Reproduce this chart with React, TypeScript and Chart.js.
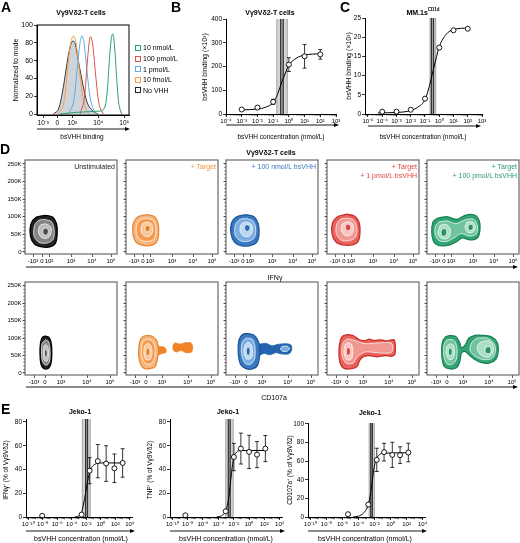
import React, { useEffect, useRef } from "react";
import { Chart, registerables } from "chart.js";

Chart.register(...registerables);

const FONT = '"Liberation Sans", Arial, Helvetica, sans-serif';
Chart.defaults.font.family = FONT;
Chart.defaults.color = "#000";

/* ================= DATA ================= */

// Panel A – histograms (x in display channels, y in % of mode)
const A_X_TICKS = [63, 203, 353, 613, 873];
const A_X_LABELS = ["10⁻³", "0", "10³", "10⁴", "10⁵"];
const A_Y_TICKS = [0, 20, 40, 60, 80, 100];
const A_NO_VHH = [[163, 0], [213, 5], [263, 30], [297, 55], [330, 75], [357, 82], [380, 80], [413, 60], [447, 40], [480, 22], [513, 10], [563, 3], [613, 0]];
const A_10_FMOL = [[213, 0], [263, 10], [297, 40], [330, 75], [363, 88], [390, 80], [423, 50], [457, 20], [490, 5], [523, 0]];
const A_1_PMOL = [[313, 0], [363, 12], [397, 45], [430, 80], [450, 88], [470, 80], [503, 45], [537, 15], [580, 2], [613, 0]];
const A_100_PMOL = [[430, 0], [470, 15], [497, 50], [523, 82], [537, 87], [557, 78], [590, 40], [623, 10], [663, 0]];
const A_10_NMOL = [[230, 0], [397, 2], [563, 3], [663, 5], [697, 20], [723, 60], [743, 85], [757, 90], [773, 80], [797, 40], [820, 10], [847, 0]];
const A_LEGEND = ["10 nmol/L", "100 pmol/L", "1 pmol/L", "10 fmol/L", "No VHH"];

// Panel B
const B_CONC = [1e-3, 1e-2, 1e-1, 1, 10, 100];
const B_MEAN = [19, 27, 51, 208, 243, 251];
const B_ERR = [3, 3, 11, 29, 50, 20];
const B_FIT_CONC = [1e-3, 1e-2, 0.0316, 0.1, 0.178, 0.316, 0.562, 1, 3.16, 10, 100];
const B_FIT = [17, 21, 28, 48, 78, 125, 168, 205, 236, 248, 254];
const B_BAND = [0.17, 0.8, 0.3, 0.44];
const B_X_TICKS = [1e-4, 1e-3, 1e-2, 1e-1, 1, 10, 100, 1000];
const B_X_LABELS = ["10⁻⁴", "10⁻³", "10⁻²", "10⁻¹", "10⁰", "10¹", "10²", "10³"];
const B_Y_TICKS = [0, 100, 200, 300, 400];

// Panel C
const C_CONC = [1e-4, 1e-3, 1e-2, 1e-1, 1, 10, 100];
const C_MEAN = [0.6, 0.6, 1.1, 4.0, 17.3, 21.8, 22.2];
const C_ERR = [0, 0, 0, 0, 0, 0, 0];
const C_FIT_CONC = [5e-5, 1e-3, 1e-2, 0.0316, 0.1, 0.178, 0.316, 0.562, 1, 3.16, 10, 100];
const C_FIT = [0.3, 0.4, 0.9, 1.8, 3.7, 6.5, 10.2, 14, 17.5, 20.8, 22, 22.4];
const C_BAND = [0.224, 0.562, 0.282, 0.398];
const C_X_TICKS = [1e-5, 1e-4, 1e-3, 1e-2, 1e-1, 1, 10, 100, 1000];
const C_X_LABELS = ["10⁻⁵", "10⁻⁴", "10⁻³", "10⁻²", "10⁻¹", "10⁰", "10¹", "10²", "10³"];
const C_Y_TICKS = [0, 5, 10, 15, 20, 25];

// Panel D – flow contours (x in display channels, y in K)
const IFN_X_TICKS = [80, 170, 240, 460, 670, 860];
const IFN_X_LABELS = ["-10³", "0", "10²", "10³", "10⁴", "10⁵"];
const CD_X_TICKS = [90, 200, 360, 620, 850];
const CD_X_LABELS = ["-10³", "0", "10³", "10⁴", "10⁵"];
const FLOW_Y_TICKS = [0, 50, 100, 150, 200, 250];
const FLOW_Y_LABELS = ["0", "50K", "100K", "150K", "200K", "250K"];

const IFN_UNSTIM = [
  [[200, 104], [275, 99], [315, 80], [322, 52], [305, 25], [250, 14], [170, 14], [95, 22], [55, 45], [58, 78], [110, 98], [200, 104]],
  [[200, 92], [265, 86], [292, 62], [280, 35], [220, 25], [140, 27], [90, 45], [95, 75], [140, 90], [200, 92]],
  [[205, 80], [255, 72], [262, 55], [230, 40], [170, 40], [135, 55], [150, 75], [205, 80]],
  [[205, 68], [232, 63], [230, 52], [202, 47], [178, 55], [184, 65], [205, 68]],
];
const IFN_TARGET = [
  [[210, 106], [285, 100], [320, 80], [326, 52], [305, 28], [240, 18], [160, 19], [100, 28], [70, 50], [72, 80], [120, 100], [210, 106]],
  [[215, 95], [275, 88], [300, 65], [285, 38], [225, 30], [150, 33], [105, 50], [110, 78], [150, 92], [215, 95]],
  [[215, 85], [260, 78], [268, 60], [240, 45], [185, 45], [150, 60], [165, 80], [215, 85]],
  [[212, 76], [240, 72], [238, 62], [212, 57], [190, 64], [195, 73], [212, 76]],
];
const IFN_100N = [
  [[200, 106], [280, 100], [322, 80], [330, 52], [308, 28], [240, 18], [150, 18], [85, 28], [50, 52], [55, 82], [110, 100], [200, 106]],
  [[205, 95], [270, 88], [298, 65], [282, 40], [220, 30], [140, 32], [90, 50], [95, 78], [140, 92], [205, 95]],
  [[205, 85], [255, 78], [265, 60], [235, 45], [175, 45], [140, 60], [155, 80], [205, 85]],
  [[208, 78], [238, 73], [236, 63], [210, 58], [186, 65], [190, 74], [208, 78]],
];
const IFN_1P = [
  [[200, 107], [278, 101], [322, 82], [330, 55], [312, 30], [250, 20], [160, 20], [90, 28], [50, 52], [55, 82], [105, 100], [200, 107]],
  [[205, 96], [268, 90], [298, 68], [285, 42], [225, 32], [145, 33], [92, 52], [98, 80], [140, 93], [205, 96]],
  [[205, 86], [255, 80], [265, 62], [238, 48], [178, 47], [142, 62], [155, 80], [205, 86]],
  [[206, 79], [236, 74], [234, 64], [208, 60], [185, 66], [188, 75], [206, 79]],
];
const IFN_100P = [
  [[100, 95], [200, 100], [300, 92], [380, 104], [470, 105], [520, 90], [530, 65], [505, 40], [430, 34], [350, 40], [290, 28], [220, 19], [130, 18], [70, 28], [48, 55], [60, 85], [100, 95]],
  [[120, 85], [200, 88], [290, 80], [390, 92], [470, 92], [505, 72], [490, 50], [420, 45], [340, 52], [270, 40], [200, 30], [120, 32], [80, 52], [88, 75], [120, 85]],
  [[130, 75], [195, 78], [235, 62], [215, 40], [150, 38], [110, 52], [130, 75]],
  [[400, 85], [460, 84], [485, 70], [460, 56], [405, 56], [380, 70], [400, 85]],
  [[150, 65], [185, 66], [198, 55], [180, 45], [150, 46], [140, 56], [150, 65]],
  [[420, 78], [450, 78], [462, 70], [450, 62], [420, 62], [410, 70], [420, 78]],
];
const CD_UNSTIM = [
  [[200, 106], [240, 102], [262, 85], [268, 55], [258, 25], [232, 13], [185, 13], [160, 25], [150, 55], [156, 88], [175, 102], [200, 106]],
  [[205, 95], [235, 90], [250, 65], [245, 32], [210, 22], [175, 32], [165, 60], [172, 85], [205, 95]],
  [[207, 82], [228, 75], [236, 55], [225, 35], [195, 35], [183, 55], [188, 75], [207, 82]],
  [[207, 68], [220, 63], [222, 52], [208, 45], [195, 52], [196, 63], [207, 68]],
];
const CD_TARGET = [
  [[300, 78], [340, 76], [370, 75], [400, 69], [396, 58], [360, 56], [330, 52], [300, 50], [300, 78]],
  [[215, 108], [270, 104], [310, 90], [325, 65], [315, 42], [290, 18], [230, 12], [170, 15], [135, 35], [127, 65], [140, 92], [175, 105], [215, 108]],
  [[215, 96], [260, 92], [290, 72], [282, 40], [240, 25], [185, 30], [155, 55], [160, 82], [185, 94], [215, 96]],
  [[215, 85], [245, 80], [260, 62], [245, 40], [200, 38], [178, 58], [188, 78], [215, 85]],
  [[215, 72], [235, 68], [238, 56], [220, 48], [200, 54], [200, 66], [215, 72]],
  [[470, 80], [490, 86], [540, 83], [600, 87], [650, 86], [667, 75], [655, 60], [600, 58], [550, 64], [500, 60], [472, 66], [470, 80]],
];
const CD_100N = [
  [[320, 82], [360, 84], [400, 85], [460, 78], [520, 82], [600, 84], [650, 80], [657, 66], [630, 55], [560, 54], [500, 58], [440, 52], [380, 56], [320, 50], [320, 82]],
  [[560, 76], [610, 77], [635, 70], [610, 62], [565, 62], [545, 69], [560, 76]],
  [[220, 113], [280, 108], [320, 92], [338, 70], [320, 25], [270, 12], [200, 12], [145, 25], [122, 60], [130, 95], [165, 110], [220, 113]],
  [[220, 100], [265, 96], [290, 75], [285, 40], [245, 25], [190, 28], [155, 55], [160, 85], [190, 98], [220, 100]],
  [[220, 88], [250, 82], [265, 62], [250, 42], [205, 40], [180, 58], [190, 80], [220, 88]],
  [[218, 75], [238, 70], [240, 58], [225, 50], [205, 55], [205, 68], [218, 75]],
];
const CD_1P = [
  [[210, 110], [270, 106], [320, 96], [380, 92], [420, 97], [470, 93], [540, 95], [600, 92], [670, 95], [682, 80], [680, 55], [650, 48], [580, 50], [500, 46], [420, 50], [360, 46], [325, 35], [300, 18], [240, 12], [170, 13], [130, 30], [120, 65], [135, 95], [165, 107], [210, 110]],
  [[215, 98], [290, 92], [380, 84], [500, 86], [640, 86], [660, 72], [640, 58], [500, 58], [380, 60], [300, 45], [260, 28], [190, 28], [150, 50], [155, 82], [185, 95], [215, 98]],
  [[210, 88], [245, 82], [258, 62], [245, 40], [195, 38], [170, 58], [180, 80], [210, 88]],
  [[210, 74], [230, 70], [233, 58], [215, 50], [195, 56], [196, 68], [210, 74]],
];
const CD_100P = [
  [[230, 108], [290, 104], [325, 88], [345, 72], [380, 80], [420, 100], [480, 108], [560, 108], [640, 104], [700, 88], [712, 62], [690, 40], [620, 28], [540, 30], [470, 40], [420, 52], [380, 62], [345, 58], [325, 30], [290, 14], [220, 12], [170, 20], [148, 50], [152, 85], [180, 102], [230, 108]],
  [[230, 96], [275, 92], [300, 70], [292, 38], [250, 25], [200, 26], [168, 50], [172, 82], [200, 94], [230, 96]],
  [[230, 84], [262, 80], [275, 62], [262, 42], [220, 38], [190, 55], [198, 76], [230, 84]],
  [[230, 72], [248, 68], [250, 56], [235, 50], [215, 55], [215, 66], [230, 72]],
  [[500, 100], [600, 100], [670, 85], [685, 62], [650, 42], [570, 38], [480, 48], [430, 65], [450, 88], [500, 100]],
  [[550, 90], [620, 92], [660, 78], [655, 55], [610, 45], [545, 50], [505, 65], [512, 82], [550, 90]],
  [[590, 74], [625, 75], [640, 66], [628, 56], [595, 56], [580, 64], [590, 74]],
];

// Panel E (log10 of concentration, nmol/L)
const E_X_TICKS = [1e-10, 1e-8, 1e-6, 1e-4, 1e-2, 1, 100, 1e4];
const E_X_LABELS = ["10⁻¹⁰", "10⁻⁸", "10⁻⁶", "10⁻⁴", "10⁻²", "10⁰", "10²", "10⁴"];
const E_Y_TICKS_80 = [0, 20, 40, 60, 80];
const E_Y_TICKS_100 = [0, 20, 40, 60, 80, 100];

const E1_LOGC = [-8.07, -2.64, -1.54, -0.41, 0.74, 1.88, 3.01];
const E1_MEAN = [1, 2, 39, 47, 45, 41, 45.5];
const E1_ERR = [0, 0, 11, 14, 15, 12, 12];
const E1_FIT_LOGC = [-3.6, -3.2, -2.9, -2.64, -2.4, -2.09, -1.85, -1.64, -1.4, -1.09, -0.6, 0, 3.01];
const E1_FIT = [0, 0.5, 1.5, 4, 10, 20, 29, 35, 40, 43, 45, 45.5, 45.5];
const E1_BAND = [-2.54, -1.45, -2.09, -1.82];

const E2_LOGC = [-8.3, -3.04, -1.97, -1.06, 0.01, 1.04, 2.13];
const E2_MEAN = [1.4, 4.8, 50.5, 57.6, 54.8, 52.5, 57.6];
const E2_ERR = [0, 0, 11.5, 13, 14, 11, 11];
const E2_FIT_LOGC = [-4.2, -3.6, -3.04, -2.7, -2.4, -2.15, -1.97, -1.7, -1.3, -0.5, 2.13];
const E2_FIT = [0, 1, 5, 14, 30, 44, 50.5, 54, 55.8, 56, 56];
const E2_BAND = [-3.04, -2.06, -2.7, -2.45];

const E3_LOGC = [-5.31, -2.77, -1.72, -0.81, 0.22, 1.19, 2.22];
const E3_MEAN = [3, 13.4, 61.4, 69.7, 66.8, 66.4, 69.3];
const E3_ERR = [0, 0, 12.5, 9.5, 13.5, 9, 10];
const E3_FIT_LOGC = [-4.7, -4.0, -3.4, -2.77, -2.5, -2.2, -1.94, -1.7, -1.4, -0.9, 2.22];
const E3_FIT = [0, 1, 4, 13.4, 25, 44, 58, 63.5, 67, 68.5, 69];
const E3_BAND = [-2.67, -2.02, -2.47, -2.27];

/* ================= HELPERS ================= */

const p10 = (e: number) => Math.pow(10, e);
const pts = (xs: number[], ys: number[]) => xs.map((x, i) => ({ x, y: ys[i] }));
const pairPts = (r: number[][]) => r.map(([x, y]) => ({ x, y }));

function makeDeco(d: any) {
  return {
    id: "deco",
    beforeDatasetsDraw(chart: any) {
      const { ctx, chartArea: a } = chart;
      const xs = chart.scales.x, ys = chart.scales.y;
      ctx.save();
      (d.bands || []).forEach((b: number[]) => {
        const x0 = xs.getPixelForValue(b[0]), x1 = xs.getPixelForValue(b[1]);
        const l0 = xs.getPixelForValue(b[2]), l1 = xs.getPixelForValue(b[3]);
        const h = a.bottom - a.top;
        ctx.fillStyle = "#d4d4d4";
        ctx.fillRect(x0, a.top, x1 - x0, h);
        ctx.fillStyle = "#a9a9a9";
        ctx.fillRect(l0, a.top, l1 - l0, h);
        ctx.strokeStyle = "#8a8a8a";
        ctx.lineWidth = 0.7;
        [x0, x1].forEach((x) => { ctx.beginPath(); ctx.moveTo(x, a.top); ctx.lineTo(x, a.bottom); ctx.stroke(); });
        ctx.strokeStyle = "#333";
        ctx.lineWidth = 1.2;
        [l0, l1].forEach((x) => { ctx.beginPath(); ctx.moveTo(x, a.top); ctx.lineTo(x, a.bottom); ctx.stroke(); });
      });
      if (d.err) {
        ctx.strokeStyle = "#000";
        ctx.lineWidth = 0.8;
        d.err.x.forEach((xv: number, i: number) => {
          const e = d.err.e[i];
          if (!e) return;
          const px = xs.getPixelForValue(xv);
          const yt = ys.getPixelForValue(d.err.y[i] + e);
          const yb = ys.getPixelForValue(d.err.y[i] - e);
          ctx.beginPath();
          ctx.moveTo(px, yt); ctx.lineTo(px, yb);
          ctx.moveTo(px - 2, yt); ctx.lineTo(px + 2, yt);
          ctx.moveTo(px - 2, yb); ctx.lineTo(px + 2, yb);
          ctx.stroke();
        });
      }
      ctx.restore();
    },
    afterDraw(chart: any) {
      const { ctx, chartArea: a } = chart;
      const xs = chart.scales.x, ys = chart.scales.y;
      ctx.save();
      if (d.frame) {
        ctx.strokeStyle = d.frame;
        ctx.lineWidth = d.frameW || 1;
        ctx.strokeRect(a.left, a.top, a.right - a.left, a.bottom - a.top);
      }
      if (d.minorLog) {
        ctx.strokeStyle = "#000";
        ctx.lineWidth = 0.6;
        const lo = Math.floor(Math.log10(xs.min)), hi = Math.ceil(Math.log10(xs.max));
        for (let dd = lo; dd <= hi; dd++) {
          for (let k = 1; k <= 9; k++) {
            const v = k * Math.pow(10, dd);
            if (v < xs.min || v > xs.max) continue;
            const px = xs.getPixelForValue(v);
            ctx.beginPath(); ctx.moveTo(px, a.bottom); ctx.lineTo(px, a.bottom + (k === 1 ? 2.2 : 1.6)); ctx.stroke();
          }
        }
      }
      if (d.minorY) {
        ctx.strokeStyle = "#333";
        ctx.lineWidth = 0.6;
        for (let v = 0; v <= d.minorY[1]; v += d.minorY[0]) {
          const py = ys.getPixelForValue(v);
          ctx.beginPath(); ctx.moveTo(a.left - 1.8, py); ctx.lineTo(a.left, py); ctx.stroke();
        }
      }
      ctx.restore();
    },
  };
}

function baseOptions(p: any, scales: any) {
  return {
    responsive: false,
    animation: false,
    events: [],
    devicePixelRatio: 1,
    layout: { padding: { left: 0, top: p.padTop, right: p.padRight, bottom: 0 }, autoPadding: false },
    plugins: { legend: { display: false }, tooltip: { enabled: false } },
    scales,
  };
}

function axisX(o: any) {
  return {
    type: o.type,
    min: o.min,
    max: o.max,
    afterBuildTicks: (s: any) => { s.ticks = o.ticks.map((v: number) => ({ value: v })); },
    afterFit: (s: any) => { s.height = o.h; },
    ticks: {
      autoSkip: false, maxRotation: 0, minRotation: 0, padding: o.pad ?? 1, color: "#000",
      font: { size: o.size ?? 6.5, family: FONT },
      callback: (_v: any, i: number) => o.labels[i],
    },
    grid: { display: true, drawOnChartArea: false, drawTicks: true, tickLength: 3, color: o.tickColor ?? "#000", lineWidth: 0.8 },
    border: { display: o.border !== false, color: "#000", width: 1 },
  };
}

function axisY(o: any) {
  return {
    type: "linear",
    min: o.min,
    max: o.max,
    afterBuildTicks: (s: any) => { s.ticks = o.ticks.map((v: number) => ({ value: v })); },
    afterFit: (s: any) => { s.width = o.w; },
    ticks: {
      autoSkip: false, padding: 1, color: "#000",
      font: { size: o.size ?? 6.5, family: FONT },
      callback: (_v: any, i: number) => (o.labels ? o.labels[i] : String(o.ticks[i])),
    },
    grid: { display: true, drawOnChartArea: false, drawTicks: true, tickLength: o.tl ?? 3, color: o.tickColor ?? "#000", lineWidth: 0.8 },
    border: { display: o.border !== false, color: "#000", width: 1 },
  };
}

function doseConfig(p: any) {
  return {
    type: "scatter",
    data: {
      datasets: [
        {
          data: pts(p.px, p.py), showLine: false, pointRadius: 2.5, pointBackgroundColor: "#fff",
          pointBorderColor: "#000", pointBorderWidth: 0.9, order: 1, clip: false,
        },
        {
          data: pts(p.fx, p.fy), showLine: true, borderColor: "#000", borderWidth: 1, pointRadius: 0,
          cubicInterpolationMode: "monotone", fill: false, order: 2,
        },
      ],
    },
    options: baseOptions(p, {
      x: axisX({ type: "logarithmic", min: p.xmin, max: p.xmax, ticks: p.xt, labels: p.xl, h: p.xH, size: p.tsize }),
      y: axisY({ min: 0, max: p.ymax, ticks: p.yt, w: p.yW, size: p.ysize }),
    }),
    plugins: [makeDeco({ bands: p.bands, err: { x: p.px, y: p.py, e: p.pe }, minorLog: true })],
  };
}

const PAL: any = {
  black: { fills: ["#232323", "#858585", "#bdbdbd", "#4d4d4d", "#222222"], edge: "#000000", text: "#222222" },
  orange: { fills: ["#f7b57f", "#f49b52", "#f8c89c", "#e8801f", "#ef8326"], edge: "#ea8630", text: "#f0913a" },
  blue: { fills: ["#3a78bf", "#7aaee2", "#bcd7f2", "#2d69ad", "#2463ad"], edge: "#1e589a", text: "#3c78c0" },
  red: { fills: ["#e9635c", "#f19893", "#f8c6c3", "#d9443e", "#d9443e"], edge: "#c9302c", text: "#e0443e" },
  green: { fills: ["#33a474", "#6fc49f", "#acdec7", "#24925f", "#24925f"], edge: "#1a8352", text: "#2a9d6e" },
};

function flowConfig(rings: number[][][], tones: number[], pal: any, row: number, showY: boolean) {
  const n = rings.length;
  return {
    type: "scatter",
    data: {
      datasets: rings.map((ring, i) => {
        const t = tones[i];
        return {
          data: pairPts(ring),
          showLine: true,
          fill: "shape",
          tension: 0.3,
          backgroundColor: pal.fills[t],
          borderColor: t === 0 ? pal.edge : t === 4 ? pal.fills[4] : "#ffffff",
          borderWidth: t === 0 ? 1.3 : 0.7,
          pointRadius: 0,
          order: n - i,
        };
      }),
    },
    options: baseOptions({ padTop: 5, padRight: 4 }, {
      x: axisX({
        type: "linear", min: 0, max: 920,
        ticks: row === 0 ? IFN_X_TICKS : CD_X_TICKS, labels: row === 0 ? IFN_X_LABELS : CD_X_LABELS,
        h: 11, size: 6, border: false, tickColor: "#333",
      }),
      y: axisY({
        min: -6, max: 261, ticks: FLOW_Y_TICKS, labels: showY ? FLOW_Y_LABELS : FLOW_Y_TICKS.map(() => ""),
        w: 24, size: 6, border: false, tl: 2.5, tickColor: "#333",
      }),
    }),
    plugins: [makeDeco({ frame: "#6a6a6a", frameW: 1.2, minorY: [10, 250] })],
  };
}

function aConfig() {
  const line = (d: number[][], color: string, order: number, fill?: any) => ({
    data: pairPts(d), showLine: true, borderColor: color, borderWidth: 1, pointRadius: 0, tension: 0.35,
    fill: fill ? "origin" : false, backgroundColor: fill || "transparent", order,
  });
  return {
    type: "scatter",
    data: {
      datasets: [
        line(A_10_NMOL, "#2f9e77", 1),
        line(A_100_PMOL, "#d9534f", 2),
        line(A_1_PMOL, "#5aaee0", 3),
        line(A_10_FMOL, "#f0a04b", 4),
        line(A_NO_VHH, "#3a3a3a", 5, "rgba(190,198,206,0.75)"),
      ],
    },
    options: baseOptions({ padTop: 11, padRight: 7 }, {
      x: axisX({ type: "linear", min: 0, max: 920, ticks: A_X_TICKS, labels: A_X_LABELS, h: 19, size: 6.5 }),
      y: axisY({ min: -1, max: 100, ticks: A_Y_TICKS, w: 37, size: 7 }),
    }),
    plugins: [makeDeco({ frame: "#000", frameW: 1 })],
  };
}

/* ================= COMPONENTS ================= */

function ChartBox({ x, y, w, h, make }: any) {
  const ref = useRef<HTMLCanvasElement | null>(null);
  useEffect(() => {
    const chart = new Chart(ref.current as HTMLCanvasElement, make());
    return () => chart.destroy();
  }, []);
  return (
    <canvas ref={ref} width={w} height={h}
      style={{ position: "absolute", left: x, top: y, width: w, height: h }} />
  );
}

function T({ x, y, s = 7, b = false, c = "#000", rot = false, align = "center", children }: any) {
  const style: any = {
    position: "absolute", left: x, top: y, fontSize: s, fontWeight: b ? "bold" : "normal", color: c,
    whiteSpace: "nowrap", lineHeight: 1, fontFamily: FONT,
  };
  if (align === "center") style.transform = rot ? "translate(-50%,-50%) rotate(-90deg)" : "translate(-50%,-50%)";
  else if (align === "right") style.transform = "translate(-100%,-50%)";
  else style.transform = "translate(0,-50%)";
  return <div style={style}>{children}</div>;
}

const FLOW_PLOTS = [
  { row: 0, col: 0, rings: IFN_UNSTIM, tones: [0, 1, 2, 3], pal: "black", label: ["Unstimulated"] },
  { row: 0, col: 1, rings: IFN_TARGET, tones: [0, 1, 2, 3], pal: "orange", label: ["+ Target"] },
  { row: 0, col: 2, rings: IFN_100N, tones: [0, 1, 2, 3], pal: "blue", label: ["+ 100 nmol/L bsVHH"] },
  { row: 0, col: 3, rings: IFN_1P, tones: [0, 1, 2, 3], pal: "red", label: ["+ Target", "+ 1 pmol/L bsVHH"] },
  { row: 0, col: 4, rings: IFN_100P, tones: [0, 1, 2, 2, 3, 3], pal: "green", label: ["+ Target", "+ 100 pmol/L bsVHH"] },
  { row: 1, col: 0, rings: CD_UNSTIM, tones: [0, 1, 2, 3], pal: "black", label: [] },
  { row: 1, col: 1, rings: CD_TARGET, tones: [4, 0, 1, 2, 3, 4], pal: "orange", label: [] },
  { row: 1, col: 2, rings: CD_100N, tones: [4, 1, 0, 1, 2, 3], pal: "blue", label: [] },
  { row: 1, col: 3, rings: CD_1P, tones: [0, 1, 2, 3], pal: "red", label: [] },
  { row: 1, col: 4, rings: CD_100P, tones: [0, 1, 2, 3, 1, 2, 3], pal: "green", label: [] },
];

const ARROWS = [
  [37, 129, 130], [226, 125, 339], [368, 126, 481],
  [26, 267, 518], [26, 387, 518],
  [26, 531, 135], [170, 531, 285], [308, 531, 427],
];

export default function App() {
  return (
    <div style={{ position: "absolute", left: 0, top: 0, width: 520, height: 543, background: "#fff", overflow: "hidden", fontFamily: FONT }}>
      {/* Panel A */}
      <ChartBox x={0} y={14} w={136} h={120} make={aConfig} />

      {/* Panel B */}
      <ChartBox x={190} y={12} w={152} h={114} make={() => doseConfig({
        px: B_CONC, py: B_MEAN, pe: B_ERR, fx: B_FIT_CONC, fy: B_FIT, bands: [B_BAND],
        xmin: 1e-4, xmax: 1e3, xt: B_X_TICKS, xl: B_X_LABELS, ymax: 400, yt: B_Y_TICKS,
        yW: 36, xH: 12, padTop: 7, padRight: 6, tsize: 6, ysize: 6.5,
      })} />

      {/* Panel C */}
      <ChartBox x={340} y={12} w={150} h={114} make={() => doseConfig({
        px: C_CONC, py: C_MEAN, pe: C_ERR, fx: C_FIT_CONC, fy: C_FIT, bands: [C_BAND],
        xmin: p10(-5.21), xmax: 1e3, xt: C_X_TICKS, xl: C_X_LABELS, ymax: 25, yt: C_Y_TICKS,
        yW: 25, xH: 12, padTop: 6, padRight: 8, tsize: 6, ysize: 6.5,
      })} />

      {/* Panel D */}
      {FLOW_PLOTS.map((f, i) => {
        const left = Math.round(25 + f.col * 100.5);
        const top = f.row === 0 ? 160 : 282;
        const bottom = f.row === 0 ? 254 : 375;
        return (
          <ChartBox key={i} x={left - 24} y={top - 5} w={120} h={bottom - top + 16}
            make={() => flowConfig(f.rings, f.tones, PAL[f.pal], f.row, f.col === 0)} />
        );
      })}

      {/* Panel E */}
      <ChartBox x={0} y={414} w={140} h={115} make={() => doseConfig({
        px: E1_LOGC.map(p10), py: E1_MEAN, pe: E1_ERR, fx: E1_FIT_LOGC.map(p10), fy: E1_FIT,
        bands: [E1_BAND.map(p10)], xmin: p10(-10.3), xmax: p10(4.3), xt: E_X_TICKS, xl: E_X_LABELS,
        ymax: 82.5, yt: E_Y_TICKS_80, yW: 26, xH: 12, padTop: 5, padRight: 8, tsize: 6, ysize: 6.5,
      })} />
      <ChartBox x={150} y={414} w={140} h={115} make={() => doseConfig({
        px: E2_LOGC.map(p10), py: E2_MEAN, pe: E2_ERR, fx: E2_FIT_LOGC.map(p10), fy: E2_FIT,
        bands: [E2_BAND.map(p10)], xmin: p10(-10.3), xmax: p10(4.3), xt: E_X_TICKS, xl: E_X_LABELS,
        ymax: 82.5, yt: E_Y_TICKS_80, yW: 20, xH: 12, padTop: 5, padRight: 8, tsize: 6, ysize: 6.5,
      })} />
      <ChartBox x={288} y={414} w={145} h={115} make={() => doseConfig({
        px: E3_LOGC.map(p10), py: E3_MEAN, pe: E3_ERR, fx: E3_FIT_LOGC.map(p10), fy: E3_FIT,
        bands: [E3_BAND.map(p10)], xmin: p10(-10.3), xmax: p10(4.3), xt: E_X_TICKS, xl: E_X_LABELS,
        ymax: 101, yt: E_Y_TICKS_100, yW: 20, xH: 12, padTop: 9, padRight: 8, tsize: 6, ysize: 6.5,
      })} />

      {/* Axis arrows */}
      <svg width={520} height={543} style={{ position: "absolute", left: 0, top: 0, pointerEvents: "none" }}>
        {ARROWS.map(([x0, y, x1], i) => (
          <g key={i}>
            <line x1={x0} y1={y} x2={x1 - 3} y2={y} stroke="#000" strokeWidth={0.9} />
            <polygon points={`${x1},${y} ${x1 - 5},${y - 2} ${x1 - 5},${y + 2}`} fill="#000" />
          </g>
        ))}
      </svg>

      {/* Panel letters */}
      <div style={{ position: "absolute", left: 1, top: 0, fontSize: 14, fontWeight: "bold", lineHeight: 1 }}>A</div>
      <div style={{ position: "absolute", left: 171, top: 0, fontSize: 14, fontWeight: "bold", lineHeight: 1 }}>B</div>
      <div style={{ position: "absolute", left: 340, top: 0, fontSize: 14, fontWeight: "bold", lineHeight: 1 }}>C</div>
      <div style={{ position: "absolute", left: 0, top: 142, fontSize: 14, fontWeight: "bold", lineHeight: 1 }}>D</div>
      <div style={{ position: "absolute", left: 1, top: 402, fontSize: 14, fontWeight: "bold", lineHeight: 1 }}>E</div>

      {/* Titles */}
      <T x={81} y={12} s={7} b>Vγ9Vδ2-T cells</T>
      <T x={270} y={12} s={7} b>Vγ9Vδ2-T cells</T>
      <T x={423} y={12} s={7} b>MM.1s<sup style={{ fontSize: 4.5 }}>CD1d</sup></T>
      <T x={271} y={152} s={7} b>Vγ9Vδ2-T cells</T>
      <T x={80} y={411} s={7} b>Jeko-1</T>
      <T x={228} y={411} s={7} b>Jeko-1</T>
      <T x={370} y={412} s={7} b>Jeko-1</T>

      {/* Axis titles */}
      <T x={15} y={70} s={7} rot>Normalized to mode</T>
      <T x={82} y={137} s={6.5}>bsVHH binding</T>
      <T x={204} y={67} s={7} rot>bsVHH binding (×10³)</T>
      <T x={281} y={137} s={6.5}>bsVHH concentration (nmol/L)</T>
      <T x={348} y={66} s={7} rot>bsVHH binding (×10³)</T>
      <T x={423} y={137} s={6.5}>bsVHH concentration (nmol/L)</T>
      <T x={275} y={277} s={7}>IFNγ</T>
      <T x={274} y={397} s={7}>CD107a</T>
      <T x={6} y={470} s={6.5} rot>IFNγ⁺ (% of Vγ9Vδ2)</T>
      <T x={150} y={470} s={6.5} rot>TNF⁺ (% of Vγ9Vδ2)</T>
      <T x={290} y={470} s={6.5} rot>CD107a⁺ (% of Vγ9Vδ2)</T>
      <T x={81} y={538} s={7}>bsVHH concentration (nmol/L)</T>
      <T x={226} y={538} s={7}>bsVHH concentration (nmol/L)</T>
      <T x={365} y={538} s={7}>bsVHH concentration (nmol/L)</T>

      {/* Legend A */}
      {A_LEGEND.map((lab, i) => {
        const colors = ["#2f9e77", "#d9534f", "#5aaee0", "#f0a04b", "#222"];
        const ys = [47, 58, 68.5, 79, 89.5];
        return (
          <React.Fragment key={lab}>
            <div style={{ position: "absolute", left: 135, top: ys[i] - 2.5, width: 4, height: 4, border: `1px solid ${colors[i]}` }} />
            <T x={143} y={ys[i]} s={7} align="left">{lab}</T>
          </React.Fragment>
        );
      })}

      {/* Flow plot labels */}
      {FLOW_PLOTS.map((f, i) => {
        const right = Math.round(25 + f.col * 100.5) + 92 - 2;
        return f.label.map((lab, j) => (
          <T key={`${i}-${j}`} x={right} y={166 + j * 9} s={7} c={PAL[f.pal].text} align="right">{lab}</T>
        ));
      })}
    </div>
  );
}
